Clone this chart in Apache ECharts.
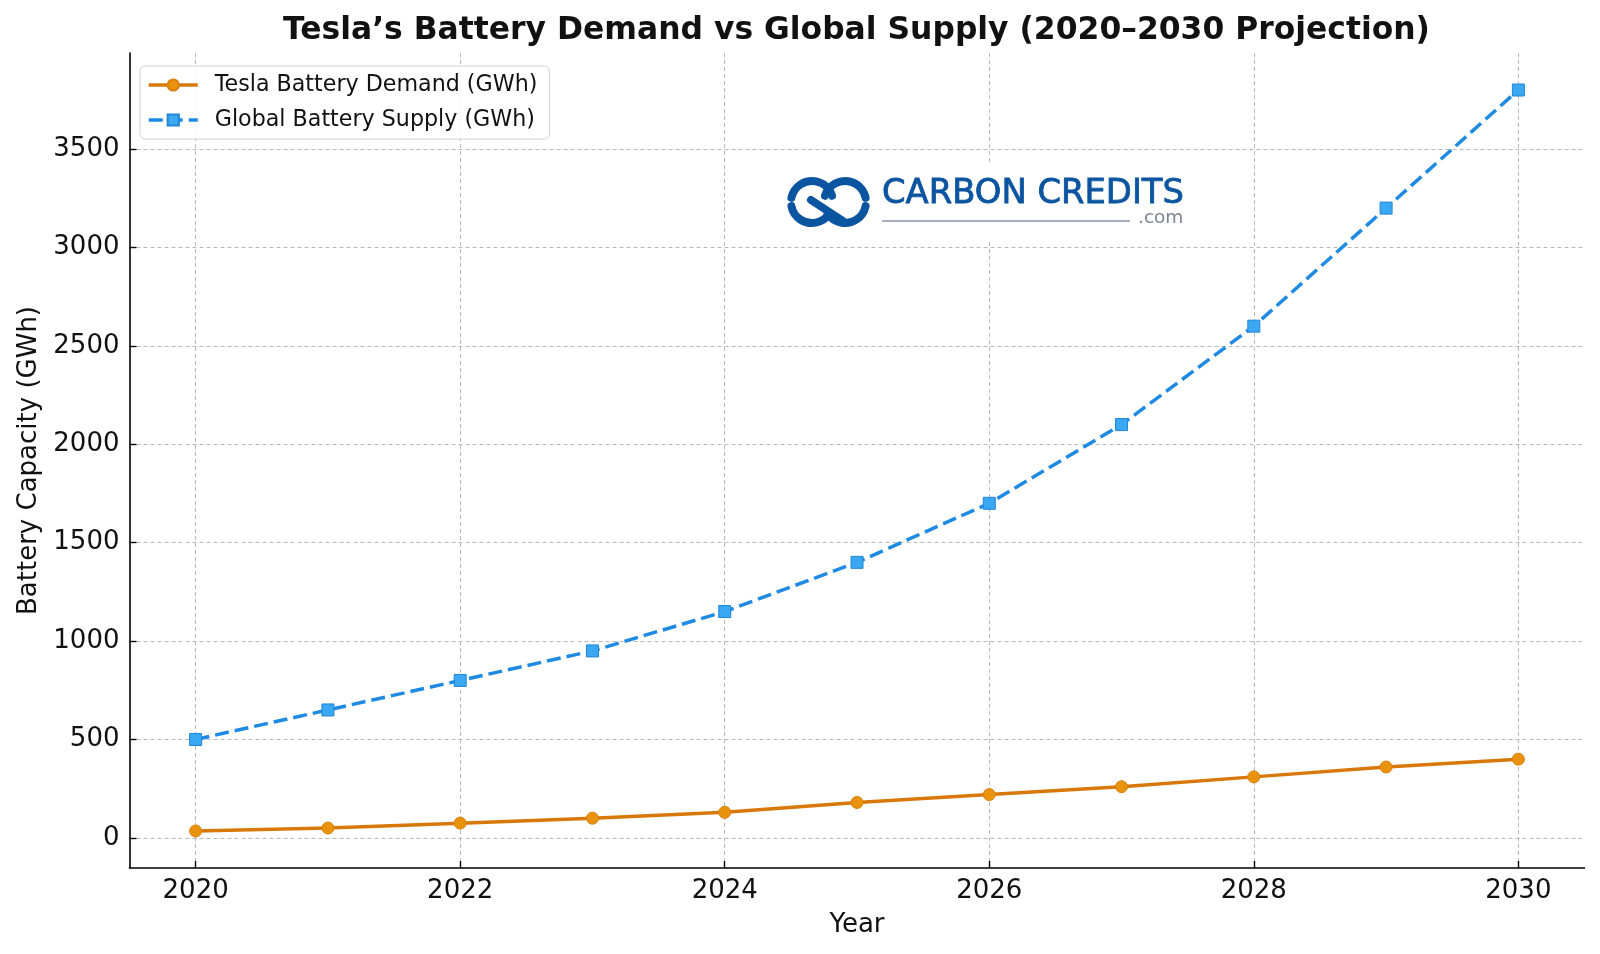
<!DOCTYPE html>
<html>
<head>
<meta charset="utf-8">
<title>Tesla Battery Demand vs Global Supply</title>
<script src="https://cdn.jsdelivr.net/npm/echarts@6/dist/echarts.min.js"></script>
<style>
  html, body { margin: 0; padding: 0; background: #fff; }
  #chart { width: 1600px; height: 954px; }
</style>
</head>
<body>
<div id="chart"></div>
<script>
// data
const years = [2020, 2021, 2022, 2023, 2024, 2025, 2026, 2027, 2028, 2029, 2030]
const teslaDemand = [35, 50, 75, 100, 130, 180, 220, 260, 310, 360, 400]
const globalSupply = [500, 650, 800, 950, 1150, 1400, 1700, 2100, 2600, 3200, 3800]
const xTicks = [2020, 2022, 2024, 2026, 2028, 2030]
const yTicks = [0, 500, 1000, 1500, 2000, 2500, 3000, 3500]

const FONT = 'DejaVu Sans'
const LOGO_BLUE = '#0b55a0'

const chart = echarts.init(document.getElementById('chart'))

function pairs(values) {
  return years.map((y, i) => [y, values[i]])
}

const gridLine = { show: true, lineStyle: { color: '#b8b8b8', width: 1, type: [4, 3] } }

// logo icon: two open rings joined by a diagonal bar
function ringArc(cx, start, end) {
  return {
    type: 'arc',
    shape: { cx, cy: 202, r: 21, startAngle: start, endAngle: end, clockwise: true },
    style: { stroke: LOGO_BLUE, lineWidth: 8, fill: null, lineCap: 'round' },
    z: 20,
  }
}

chart.setOption({
  animation: false,
  // title is centred over the plot area, not the page
  title: {
    text: 'Tesla’s Battery Demand vs Global Supply (2020–2030 Projection)',
    left: 283,
    top: 15,
    padding: 0,
    textStyle: { fontFamily: FONT, fontSize: 31.4, fontWeight: 'bold', color: '#111' },
  },
  legend: {
    data: ['Tesla Battery Demand (GWh)', 'Global Battery Supply (GWh)'],
    orient: 'vertical',
    left: 140,
    top: 66,
    padding: [7, 12, 7, 7],
    itemGap: 11,
    itemWidth: 49,
    itemHeight: 14,
    lineStyle: { width: 3.5 },
    backgroundColor: 'rgba(255,255,255,0.85)',
    borderColor: '#d0d0d0',
    borderWidth: 1,
    borderRadius: 5,
    textStyle: { fontFamily: FONT, fontSize: 22.2, color: '#111', lineHeight: 24, padding: [0, 0, 0, 12] },
  },
  grid: { left: 129.5, right: 15.5, top: 53, bottom: 86 },
  xAxis: {
    type: 'value',
    min: 2019.5,
    max: 2030.5,
    name: 'Year',
    nameLocation: 'middle',
    nameGap: 44,
    nameTextStyle: { fontFamily: FONT, fontSize: 26, color: '#111' },
    axisLine: { show: true, onZero: false, lineStyle: { color: '#000', width: 1.6 } },
    axisTick: { show: true, inside: true, length: 7, customValues: xTicks, lineStyle: { color: '#000', width: 1.4 } },
    axisLabel: {
      customValues: xTicks,
      margin: 10,
      fontFamily: FONT,
      fontSize: 26,
      color: '#111',
      formatter: (v) => String(v),
    },
    splitLine: gridLine,
  },
  yAxis: {
    type: 'value',
    min: -153,
    max: 3988,
    name: 'Battery Capacity (GWh)',
    nameLocation: 'middle',
    nameGap: 77,
    nameTextStyle: { fontFamily: FONT, fontSize: 26, color: '#111' },
    axisLine: { show: true, onZero: false, lineStyle: { color: '#000', width: 1.6 } },
    axisTick: { show: true, inside: true, length: 7, customValues: yTicks, lineStyle: { color: '#000', width: 1.4 } },
    axisLabel: {
      customValues: yTicks,
      margin: 10,
      fontFamily: FONT,
      fontSize: 26,
      color: '#111',
      formatter: (v) => String(v),
    },
    splitLine: gridLine,
  },
  graphic: [
    // white backing of the logo hides the grid behind it
    { type: 'rect', shape: { x: 768, y: 164, width: 430, height: 76 }, style: { fill: '#fff' }, z: 10 },
    ringArc(812, Math.PI + 0.2, 2 * Math.PI - 0.3),
    ringArc(812, 0.6, Math.PI - 0.2),
    ringArc(845, Math.PI + 0.3, 2 * Math.PI - 0.2),
    ringArc(845, 0.2, Math.PI - 0.6),
    {
      type: 'line',
      shape: { x1: 811, y1: 200, x2: 843, y2: 221 },
      style: { stroke: LOGO_BLUE, lineWidth: 8, lineCap: 'round' },
      z: 20,
    },
    {
      type: 'text',
      x: 882,
      y: 194,
      style: {
        text: 'CARBON CREDITS',
        fontFamily: FONT,
        fontSize: 33.8,
        fill: LOGO_BLUE,
        stroke: LOGO_BLUE,
        lineWidth: 0.8,
        verticalAlign: 'middle',
      },
      z: 20,
    },
    { type: 'line', shape: { x1: 882, y1: 221, x2: 1130, y2: 221 }, style: { stroke: '#8494a8', lineWidth: 1.5 }, z: 20 },
    {
      type: 'text',
      x: 1138,
      y: 218,
      style: { text: '.com', fontFamily: FONT, fontSize: 18.5, fill: '#7d8590', verticalAlign: 'middle' },
      z: 20,
    },
  ],
  series: [
    {
      name: 'Tesla Battery Demand (GWh)',
      type: 'line',
      data: pairs(teslaDemand),
      clip: false,
      symbol: 'circle',
      symbolSize: 12,
      lineStyle: { color: '#d9780a', width: 3.5 },
      itemStyle: { color: '#e8920e', borderColor: '#d9800a', borderWidth: 1 },
      z: 3,
    },
    {
      name: 'Global Battery Supply (GWh)',
      type: 'line',
      data: pairs(globalSupply),
      clip: false,
      symbol: 'rect',
      symbolSize: 12,
      lineStyle: { color: '#1f8ae2', width: 3.5, type: [14, 6] },
      itemStyle: { color: '#3aa8f2', borderColor: '#1f86d8', borderWidth: 1 },
      z: 3,
    },
  ],
})
</script>
</body>
</html>
